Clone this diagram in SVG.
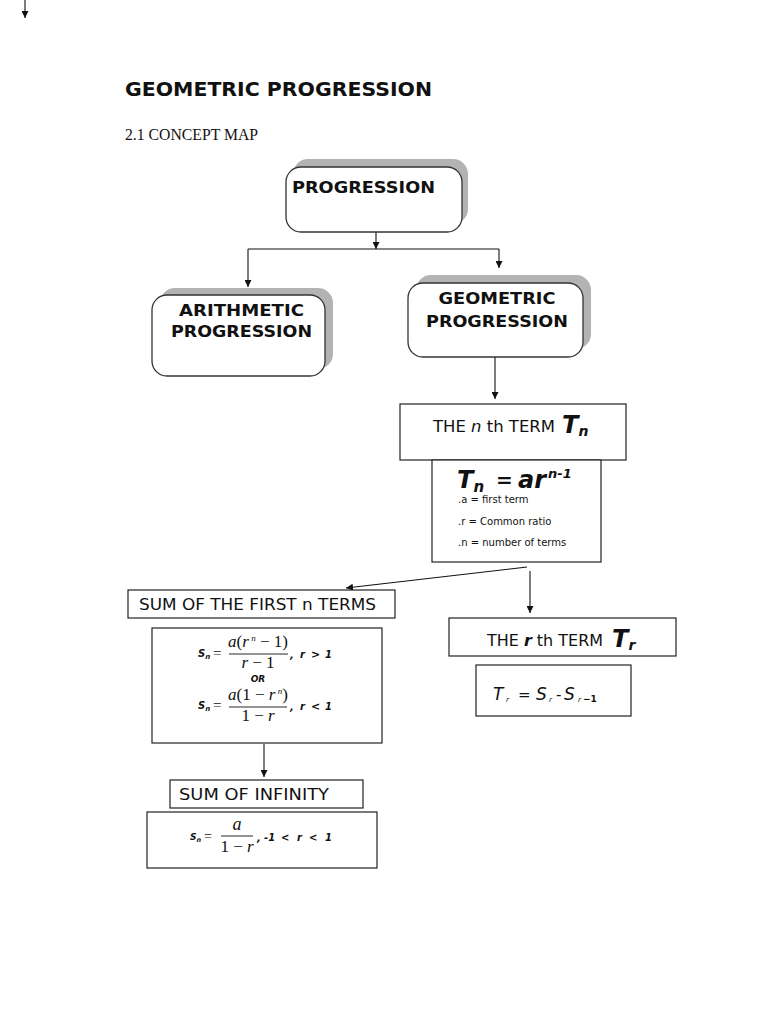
<svg xmlns="http://www.w3.org/2000/svg" width="768" height="1024" viewBox="0 0 768 1024">
<defs>
<style>
.sans{font-family:"DejaVu Sans","Verdana",sans-serif;fill:#111}
.bold{font-weight:bold}
.serif{font-family:"Liberation Serif","Times New Roman",serif;fill:#111}
.bi{font-family:"DejaVu Sans",sans-serif;font-weight:bold;font-style:italic;fill:#111}
.it{font-style:italic}
.box{fill:#fff;stroke:#333;stroke-width:1.3}
.rbox{fill:#fff;stroke:#222;stroke-width:1.2}
.shadow{fill:#b3b3b3}
.conn{fill:none;stroke:#111;stroke-width:1.1}
.bar{stroke:#111;stroke-width:0.9}
</style>
<marker id="ah" viewBox="0 0 10 10" refX="10" refY="5" markerWidth="7" markerHeight="7" markerUnits="userSpaceOnUse" orient="auto">
<path d="M0,0 L10,5 L0,10 z" fill="#111"/>
</marker>
</defs>
<rect width="768" height="1024" fill="#fff"/>

<g id="title">
<text x="125" y="96" class="sans bold" font-size="20" textLength="307" lengthAdjust="spacingAndGlyphs">GEOMETRIC PROGRESSION</text>
<text x="125" y="140" class="serif" font-size="16" textLength="133" lengthAdjust="spacingAndGlyphs">2.1 CONCEPT MAP</text>
</g>

<g id="connectors">
<line x1="25" y1="0" x2="25" y2="18" class="conn" marker-end="url(#ah)"/>
<line x1="376" y1="232" x2="376" y2="249" class="conn" marker-end="url(#ah)"/>
<polyline points="248,249 499,249" class="conn"/>
<line x1="248" y1="249" x2="248" y2="287" class="conn" marker-end="url(#ah)"/>
<line x1="499" y1="249" x2="499" y2="268" class="conn" marker-end="url(#ah)"/>
<line x1="495" y1="357" x2="495" y2="399" class="conn" marker-end="url(#ah)"/>
<line x1="527" y1="567" x2="346" y2="588" class="conn" marker-end="url(#ah)"/>
<line x1="530" y1="571" x2="530" y2="613" class="conn" marker-end="url(#ah)"/>
<line x1="264" y1="744" x2="264" y2="777" class="conn" marker-end="url(#ah)"/>
</g>

<g id="progression">
<rect x="293" y="159" width="175" height="65" rx="15" class="shadow"/>
<rect x="286" y="167" width="176" height="65" rx="15" class="box"/>
<text x="292" y="193" class="sans bold" font-size="15.5" textLength="143" lengthAdjust="spacingAndGlyphs">PROGRESSION</text>
</g>

<g id="arithmetic">
<rect x="160" y="288" width="173" height="81" rx="15" class="shadow"/>
<rect x="152" y="295" width="173" height="81" rx="15" class="box"/>
<text x="241.5" y="316" class="sans bold" font-size="15.5" text-anchor="middle" textLength="125" lengthAdjust="spacingAndGlyphs">ARITHMETIC</text>
<text x="241.5" y="337" class="sans bold" font-size="15.5" text-anchor="middle" textLength="141" lengthAdjust="spacingAndGlyphs">PROGRESSION</text>
</g>

<g id="geometric">
<rect x="416" y="275" width="175" height="74" rx="15" class="shadow"/>
<rect x="408" y="283" width="175" height="74" rx="15" class="box"/>
<text x="497" y="304" class="sans bold" font-size="15.5" text-anchor="middle" textLength="117" lengthAdjust="spacingAndGlyphs">GEOMETRIC</text>
<text x="497" y="327" class="sans bold" font-size="15.5" text-anchor="middle" textLength="142" lengthAdjust="spacingAndGlyphs">PROGRESSION</text>
</g>

<g id="nth-term">
<rect x="400" y="404" width="226" height="56" class="rbox"/>
<text x="433" y="432" class="sans" font-size="15" textLength="122" lengthAdjust="spacingAndGlyphs">THE <tspan class="it">n</tspan> th TERM</text>
<text x="562" y="433" class="bi" font-size="24">T<tspan font-size="14" dy="3">n</tspan></text>
</g>

<g id="nth-formula">
<rect x="432" y="460" width="169" height="102" class="rbox"/>
<text x="457" y="488" class="bi" font-size="24">T<tspan font-size="15" dy="4">n</tspan></text>
<text x="496" y="487" class="sans bold" font-size="20">=</text>
<text x="518" y="488" class="bi" font-size="24">ar</text>
<text x="548" y="478" class="bi" font-size="13">n-1</text>
<text x="458" y="503" class="sans" font-size="10">.a = first term</text>
<text x="458" y="525" class="sans" font-size="10">.r = Common ratio</text>
<text x="458" y="546" class="sans" font-size="10">.n = number of terms</text>
</g>

<g id="sum-n">
<rect x="128" y="590" width="267" height="28" class="rbox"/>
<text x="139" y="610" class="sans" font-size="15" textLength="237" lengthAdjust="spacingAndGlyphs">SUM OF THE FIRST n TERMS</text>
</g>

<g id="sum-n-formula">
<rect x="152" y="628" width="230" height="115" class="rbox"/>
<text x="198" y="657" class="bi" font-size="10">S<tspan font-size="7" dy="2">n</tspan></text>
<text x="213" y="658" class="serif" font-size="15">=</text>
<text x="258" y="647" class="serif" font-size="17" text-anchor="middle"><tspan class="it">a</tspan>(<tspan class="it">r</tspan><tspan font-size="9" dy="-6" class="it"> n</tspan><tspan dy="6"> − 1)</tspan></text>
<line x1="229" y1="654" x2="288" y2="654" class="bar"/>
<text x="258" y="668" class="serif" font-size="17" text-anchor="middle"><tspan class="it">r</tspan> − 1</text>
<text x="290" y="658" class="bi" font-size="10">,</text>
<text x="300" y="658" class="bi" font-size="10">r</text>
<text x="311" y="658" class="bi" font-size="11">&gt;</text>
<text x="325" y="658" class="bi" font-size="10">1</text>
<text x="258" y="682" class="bi" font-size="9" text-anchor="middle">OR</text>
<text x="198" y="709" class="bi" font-size="10">S<tspan font-size="7" dy="2">n</tspan></text>
<text x="213" y="710" class="serif" font-size="15">=</text>
<text x="258" y="700" class="serif" font-size="17" text-anchor="middle"><tspan class="it">a</tspan>(1 − <tspan class="it">r</tspan><tspan font-size="9" dy="-6" class="it"> n</tspan><tspan dy="6">)</tspan></text>
<line x1="229" y1="707" x2="287" y2="707" class="bar"/>
<text x="258" y="721" class="serif" font-size="17" text-anchor="middle">1 − <tspan class="it">r</tspan></text>
<text x="290" y="710" class="bi" font-size="10">,</text>
<text x="300" y="710" class="bi" font-size="10">r</text>
<text x="311" y="710" class="bi" font-size="11">&lt;</text>
<text x="325" y="710" class="bi" font-size="10">1</text>
</g>

<g id="sum-infinity">
<rect x="170" y="780" width="193" height="28" class="rbox"/>
<text x="179" y="800" class="sans" font-size="15" textLength="150" lengthAdjust="spacingAndGlyphs">SUM OF INFINITY</text>
</g>

<g id="sum-infinity-formula">
<rect x="147" y="812" width="230" height="56" class="rbox"/>
<text x="190" y="840" class="bi" font-size="9">S<tspan font-size="6.5" dy="2">n</tspan></text>
<text x="204" y="841" class="serif" font-size="14">=</text>
<text x="237" y="830" class="serif it" font-size="18" text-anchor="middle">a</text>
<line x1="221" y1="836" x2="253" y2="836" class="bar"/>
<text x="237" y="852" class="serif" font-size="17" text-anchor="middle">1 − <tspan class="it">r</tspan></text>
<text x="257" y="841" class="bi" font-size="10">,</text>
<text x="264" y="841" class="bi" font-size="10">-1</text>
<text x="281" y="841" class="bi" font-size="10">&lt;</text>
<text x="297" y="841" class="bi" font-size="10">r</text>
<text x="309" y="841" class="bi" font-size="10">&lt;</text>
<text x="325" y="841" class="bi" font-size="10">1</text>
</g>

<g id="rth-term">
<rect x="449" y="618" width="227" height="38" class="rbox"/>
<text x="487" y="646" class="sans" font-size="15" textLength="116" lengthAdjust="spacingAndGlyphs">THE <tspan class="it bold">r</tspan> th TERM</text>
<text x="612" y="647" class="bi" font-size="24">T<tspan font-size="14" dy="3">r</tspan></text>
</g>

<g id="rth-formula">
<rect x="476" y="665" width="155" height="51" class="rbox"/>
<text x="493" y="700" class="sans it" font-size="17">T</text>
<text x="506" y="702" class="sans it" font-size="7">r</text>
<text x="518" y="700" class="sans" font-size="15">=</text>
<text x="536" y="700" class="sans it" font-size="17">S</text>
<text x="549" y="702" class="sans it" font-size="7">r</text>
<text x="556" y="700" class="sans" font-size="15">-</text>
<text x="564" y="700" class="sans it" font-size="17">S</text>
<text x="578" y="702" class="sans it" font-size="7">r</text>
<text x="583" y="702" class="sans bold" font-size="9">−1</text>
</g>
</svg>
